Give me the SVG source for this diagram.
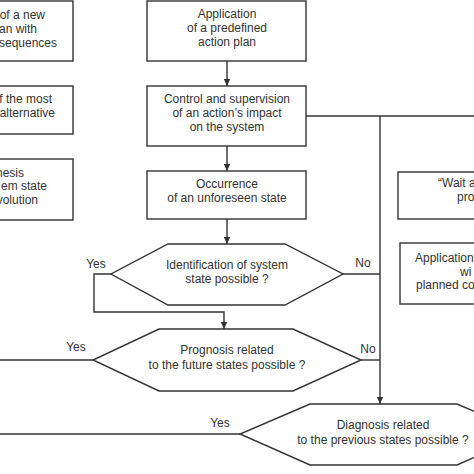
<svg xmlns="http://www.w3.org/2000/svg" width="474" height="474" viewBox="0 0 474 474">
<defs>
<marker id="ah" viewBox="0 0 10 10" refX="10" refY="5" markerWidth="7" markerHeight="6.5" markerUnits="userSpaceOnUse" orient="auto" preserveAspectRatio="none">
<path d="M0,0 L10,5 L0,10 z" fill="#333"/>
</marker>
<style>
.n{fill:#fff;stroke:#333;stroke-width:1.4}
.c{fill:none;stroke:#333;stroke-width:1.4}
text{font-family:"Liberation Sans",Arial,sans-serif;font-size:12px;fill:#333}
.m{text-anchor:middle}
.e{text-anchor:end}
</style>
</defs>
<rect width="474" height="474" fill="#fff"/>
<g id="connectors">
<path class="c" d="M227,61 V86" marker-end="url(#ah)"/>
<path class="c" d="M227,146 V171" marker-end="url(#ah)"/>
<path class="c" d="M227,219 V244" marker-end="url(#ah)"/>
<path class="c" d="M306,116 H474"/>
<path class="c" d="M380,116 V404" marker-end="url(#ah)"/>
<path class="c" d="M111,274 H94 V312 H224 V329" marker-end="url(#ah)"/>
<path class="c" d="M343,274 H380"/>
<path class="c" d="M93,360 H0"/>
<path class="c" d="M361,360 H380"/>
<path class="c" d="M240,434 H0"/>
<text x="96" y="268" class="m">Yes</text>
<text x="363" y="267" class="m">No</text>
<text x="76" y="351" class="m">Yes</text>
<text x="368" y="353" class="m">No</text>
<text x="220" y="427" class="m">Yes</text>
</g>
<g id="left1">
<rect class="n" x="-86" y="1" width="159" height="60"/>
<text x="45" y="19" class="e">of a new</text>
<text x="37" y="33" class="e">an with</text>
<text x="57" y="47" class="e">sequences</text>
</g>
<g id="left2">
<rect class="n" x="-86" y="86" width="159" height="48"/>
<text x="52" y="103" class="e">f the most</text>
<text x="55" y="117" class="e">alternative</text>
</g>
<g id="left3">
<rect class="n" x="-86" y="159" width="159" height="61"/>
<text x="24" y="177" class="e">nesis</text>
<text x="47" y="190" class="e">em state</text>
<text x="38" y="204" class="e">volution</text>
</g>
<g id="apply">
<rect class="n" x="147" y="1" width="159" height="60"/>
<text x="227" y="18" class="m">Application</text>
<text x="227" y="32" class="m">of a predefined</text>
<text x="227" y="46" class="m">action plan</text>
</g>
<g id="control">
<rect class="n" x="147" y="86" width="159" height="60"/>
<text x="227" y="103" class="m">Control and supervision</text>
<text x="227" y="117" class="m">of an action’s impact</text>
<text x="227" y="131" class="m">on the system</text>
</g>
<g id="occurrence">
<rect class="n" x="147" y="171" width="159" height="48"/>
<text x="227" y="188" class="m">Occurrence</text>
<text x="227" y="202" class="m">of an unforeseen state</text>
</g>
<g id="wait">
<rect class="n" x="398" y="172" width="160" height="47"/>
<text x="438" y="187">“Wait a</text>
<text x="457" y="201">pro</text>
</g>
<g id="applyright">
<rect class="n" x="400" y="243" width="160" height="61"/>
<text x="415" y="262">Application</text>
<text x="460" y="276">wi</text>
<text x="416" y="289">planned co</text>
</g>
<g id="identification">
<polygon class="n" points="168,244 285,244 343,274 285,305 168,305 111,274"/>
<text x="227" y="269" class="m">Identification of system</text>
<text x="227" y="283" class="m">state possible ?</text>
</g>
<g id="prognosis">
<polygon class="n" points="159,329 293,329 361,360 293,391 159,391 93,360"/>
<text x="227" y="354" class="m">Prognosis related</text>
<text x="227" y="369" class="m">to the future states possible ?</text>
</g>
<g id="diagnosis">
<polygon class="n" points="310,404 457,404 527,434 457,465 310,465 240,434"/>
<text x="383" y="429" class="m">Diagnosis related</text>
<text x="383" y="444" class="m">to the previous states possible ?</text>
</g>
</svg>
